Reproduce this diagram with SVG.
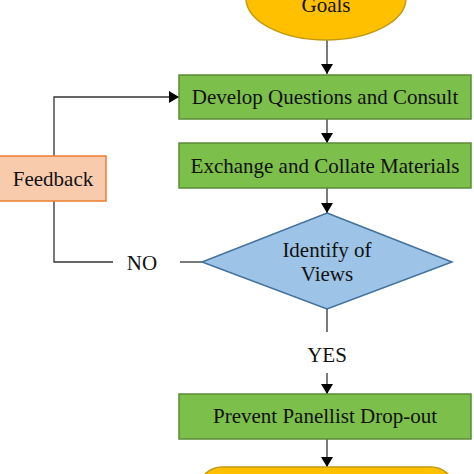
<svg xmlns="http://www.w3.org/2000/svg" width="474" height="474" viewBox="0 0 474 474">
<defs>
<marker id="ah" viewBox="0 0 10 12" refX="10" refY="6" markerWidth="10" markerHeight="12" markerUnits="userSpaceOnUse" orient="auto">
<path d="M0,0 L10,6 L0,12 z" fill="#000"/>
</marker>
<style>
.t{font-family:"Liberation Serif","Times New Roman",serif;font-size:21px;fill:#111;text-anchor:middle}
.g{fill:#7CBF4B;stroke:#5A8C36;stroke-width:1.5}
.o{fill:#FFC000;stroke:#C49A10;stroke-width:1.5}
.b{fill:#9DC3E6;stroke:#41719C;stroke-width:1.5}
.f{fill:#F8CBAD;stroke:#ED7D31;stroke-width:1.5}
.c{fill:none;stroke:#333;stroke-width:1.3}
</style>
</defs>
<rect width="474" height="474" fill="#fff"/>
<g id="connectors">
<path class="c" d="M327,40 V74" marker-end="url(#ah)"/>
<path class="c" d="M327,119 V143" marker-end="url(#ah)"/>
<path class="c" d="M327,188 V213" marker-end="url(#ah)"/>
<path class="c" d="M327,309 V332"/>
<path class="c" d="M327,373 V394" marker-end="url(#ah)"/>
<path class="c" d="M327,439 V467" marker-end="url(#ah)"/>
<path class="c" d="M54,156 V97 H179" marker-end="url(#ah)"/>
<path class="c" d="M54,201 V262 H113"/>
<path class="c" d="M180,262 H202"/>
<text class="t" x="142" y="270">NO</text>
<text class="t" x="327" y="362">YES</text>
</g>
<g id="goals">
<ellipse class="o" cx="326" cy="-2" rx="80" ry="42"/>
<text class="t" x="326" y="12">Goals</text>
</g>
<g id="develop">
<rect class="g" x="179" y="75" width="292" height="44"/>
<text class="t" x="325" y="104">Develop Questions and Consult</text>
</g>
<g id="exchange">
<rect class="g" x="179" y="143" width="292" height="45"/>
<text class="t" x="325" y="173">Exchange and Collate Materials</text>
</g>
<g id="identify">
<polygon class="b" points="327,213 452,262 327,309 202,262"/>
<text class="t" x="327" y="257">Identify of</text>
<text class="t" x="327" y="281">Views</text>
</g>
<g id="prevent">
<rect class="g" x="179" y="394" width="292" height="45"/>
<text class="t" x="325" y="423">Prevent Panellist Drop-out</text>
</g>
<g id="feedback">
<rect class="f" x="-5" y="156" width="111" height="45"/>
<text class="t" x="53" y="186">Feedback</text>
</g>
<g id="end">
<rect class="o" x="200" y="467" width="253" height="40" rx="22"/>
</g>
</svg>
